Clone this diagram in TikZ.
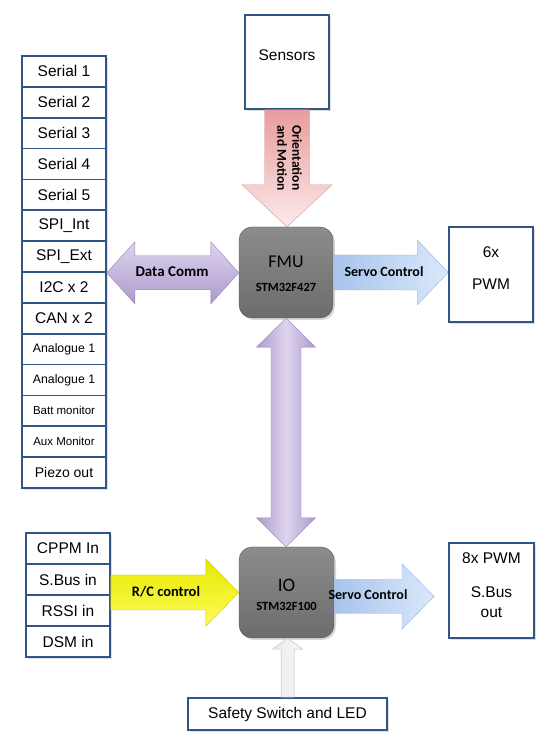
\documentclass[tikz,border=0pt]{standalone}
\usepackage{fontspec}
\setmainfont{Liberation Sans}
\newfontfamily\calib{Carlito}
\usetikzlibrary{calc,shadows}
\definecolor{boxblue}{RGB}{50,86,132}
\definecolor{lavL}{RGB}{222,212,238}
\definecolor{lavD}{RGB}{172,154,204}
\definecolor{lavE}{RGB}{150,130,185}
\definecolor{pinkD}{RGB}{232,156,156}
\definecolor{pinkL}{RGB}{252,234,234}
\definecolor{pinkE}{RGB}{215,150,150}
\definecolor{bluD}{RGB}{168,196,236}
\definecolor{bluL}{RGB}{218,232,250}
\definecolor{bluE}{RGB}{150,178,220}
\definecolor{yelD}{RGB}{232,232,0}
\definecolor{yelL}{RGB}{252,252,90}
\definecolor{yelE}{RGB}{200,200,0}
\definecolor{chipT}{RGB}{140,140,140}
\definecolor{chipB}{RGB}{108,108,108}
\newcommand\rarrow[6]{%
  \path[#6] let \p1=(#1), \p2=(#2) in
   (\x1,\y1+#3) -- (\x2-#5,\y1+#3) -- (\x2-#5,\y1+#4) -- (\x2,\y1) --
   (\x2-#5,\y1-#4) -- (\x2-#5,\y1-#3) -- (\x1,\y1-#3) -- cycle;}
\newcommand\lrarrow[6]{%
  \path[#6] let \p1=(#1), \p2=(#2) in
   (\x1,\y1) -- (\x1+#5,\y1+#4) -- (\x1+#5,\y1+#3) -- (\x2-#5,\y1+#3) --
   (\x2-#5,\y1+#4) -- (\x2,\y1) -- (\x2-#5,\y1-#4) -- (\x2-#5,\y1-#3) --
   (\x1+#5,\y1-#3) -- (\x1+#5,\y1-#4) -- cycle;}
\newcommand\darrow[6]{%
  \path[#6] let \p1=(#1), \p2=(#2) in
   (\x1-#3,\y1) -- (\x1-#3,\y2+#5) -- (\x1-#4,\y2+#5) -- (\x1,\y2) --
   (\x1+#4,\y2+#5) -- (\x1+#3,\y2+#5) -- (\x1+#3,\y1) -- cycle;}
\newcommand\uarrow[6]{%
  \path[#6] let \p1=(#1), \p2=(#2) in
   (\x1-#3,\y1) -- (\x1-#3,\y2-#5) -- (\x1-#4,\y2-#5) -- (\x1,\y2) --
   (\x1+#4,\y2-#5) -- (\x1+#3,\y2-#5) -- (\x1+#3,\y1) -- cycle;}
\newcommand\udarrow[6]{%
  \path[#6] let \p1=(#1), \p2=(#2) in
   (\x1,\y1) -- (\x1+#4,\y1-#5) -- (\x1+#3,\y1-#5) -- (\x1+#3,\y2+#5) --
   (\x1+#4,\y2+#5) -- (\x1,\y2) -- (\x1-#4,\y2+#5) -- (\x1-#3,\y2+#5) --
   (\x1-#3,\y1-#5) -- (\x1-#4,\y1-#5) -- cycle;}
\tikzset{
  box/.style={draw=boxblue, line width=1.6pt, fill=white, inner sep=0pt,
    drop shadow={shadow xshift=1.8pt, shadow yshift=-1.8pt, opacity=0.25}},
  chip/.style={rounded corners=13pt, top color=chipT, bottom color=chipB,
    draw=chipB!80!black, line width=0.4pt, inner sep=0pt,
    drop shadow={shadow xshift=2pt, shadow yshift=-2pt, opacity=0.3}},
  lab/.style={font=\fontsize{15.5}{17}\selectfont, inner sep=0pt},
  blab/.style={font=\calib\bfseries\fontsize{14}{15}\selectfont, inner sep=0pt},
}
\begin{document}
\begin{tikzpicture}[x=1pt,y=1pt]
\useasboundingbox (0,0) rectangle (559,750);
% left list
\foreach \t/\fs [count=\i] in {Serial 1/15.5, Serial 2/15.5, Serial 3/15.5,
  Serial 4/15.5, Serial 5/15.5, SPI\_Int/15.5, SPI\_Ext/15.5, I2C x 2/15.5,
  CAN x 2/15.5, Analogue 1/12.3, Analogue 1/12.3, Batt monitor/11.5,
  Aux Monitor/11.5, Piezo out/14}
  \node[box, minimum width=84pt, minimum height=30.857pt,
        font=\fontsize{\fs}{\fs}\selectfont]
     (l\i) at (64, 694-30.857*\i+15.43) {\t};
% lower list
\foreach \t [count=\i] in {CPPM In, S.Bus in, RSSI in, DSM in}
  \node[box, minimum width=84pt, minimum height=31pt,
        font=\fontsize{15.5}{17}\selectfont]
     (r\i) at (68, 217-31*\i+15.5) {\t};
% boxes
\node[box, minimum width=84pt, minimum height=94pt] (sensors) at (287,688) {};
\node[lab] (sensorsT) at (287,695) {Sensors};
\node[box, minimum width=84pt, minimum height=95pt] (pwm6) at (491,475.5) {};
\node[lab] (pwm6a) at (491,498) {6x};
\node[lab] (pwm6b) at (491,466) {PWM};
\node[box, minimum width=85pt, minimum height=95pt] (pwm8) at (491.5,159.5) {};
\node[lab] (pwm8a) at (491.5,192) {8x PWM};
\node[lab] (pwm8b) at (491.5,158) {S.Bus};
\node[lab] (pwm8c) at (491.5,137) {out};
\node[box, minimum width=199pt, minimum height=32pt,
      font=\fontsize{15.5}{17}\selectfont] (safety) at (287.5,36) {Safety Switch and LED};
% chips
\node[chip, minimum width=94pt, minimum height=91pt] (fmu) at (286,477.5) {};
\node[font=\calib\fontsize{18}{20}\selectfont, inner sep=0pt] (fmuT) at (286,488) {FMU};
\node[font=\calib\bfseries\fontsize{12.5}{14}\selectfont, inner sep=0pt] (fmuS) at (286,463) {STM32F427};
\node[chip, minimum width=95pt, minimum height=91pt] (io) at (286.5,157.5) {};
\node[font=\calib\fontsize{19}{20}\selectfont, inner sep=0pt] (ioT) at (286.5,165) {IO};
\node[font=\calib\bfseries\fontsize{12.5}{14}\selectfont, inner sep=0pt] (ioS) at (286.5,144) {STM32F100};
% arrows
\darrow{sensors.south}{fmu.north}{22.5pt}{45pt}{42pt}{top color=pinkD, bottom color=pinkL, draw=pinkE, line width=0.4pt}
\node[blab, rotate=-90, align=center, font=\calib\bfseries\fontsize{13.5}{15}\selectfont]
  (orient) at (289.5,592) {Orientation\\and Motion};
\lrarrow{l7.south east}{fmu.west}{17pt}{31pt}{28pt}{top color=lavL, bottom color=lavD, draw=lavE, line width=0.4pt}
\node[blab, font=\calib\bfseries\fontsize{15}{16}\selectfont] (datacomm) at (172,478) {Data Comm};
\rarrow{fmu.east}{pwm6.west}{17.5pt}{32.5pt}{31pt}{left color=bluD, right color=bluL, draw=bluE, line width=0.4pt}
\node[blab] (servo1) at (384,478) {Servo Control};
\udarrow{fmu.south}{io.north}{15pt}{29.5pt}{29pt}{left color=lavD, right color=lavD, middle color=lavL, draw=lavE, line width=0.4pt}
\rarrow{r2.east |- io.west}{io.west}{17.5pt}{33.5pt}{33pt}{top color=yelD, bottom color=yelL, draw=yelE, line width=0.4pt}
\node[blab, font=\calib\bfseries\fontsize{14.5}{15}\selectfont] (rc) at (166,158) {R/C control};
\coordinate (iotip) at (434,153.5);
\coordinate (iostart) at (io.east |- iotip);
\rarrow{iostart}{iotip}{17pt}{32.5pt}{32pt}{left color=bluD, right color=bluL, draw=bluE, line width=0.4pt}
\node[blab] (servo2) at (368,155) {Servo Control};
\uarrow{safety.north}{io.south}{6.5pt}{15pt}{11pt}{left color=black!8, right color=black!3, draw=black!25, line width=0.5pt}
\end{tikzpicture}
\end{document}
